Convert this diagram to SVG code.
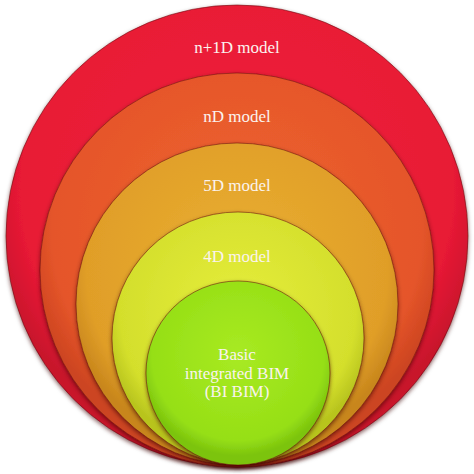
<svg xmlns="http://www.w3.org/2000/svg" width="474" height="474" viewBox="0 0 474 474">
<defs>
<filter id="sh" x="-10%" y="-10%" width="120%" height="125%">
<feDropShadow dx="0" dy="2" stdDeviation="2" flood-color="#3a0000" flood-opacity="0.6"/>
</filter>
<radialGradient id="g1" cx="50%" cy="40%" r="55%">
<stop offset="0" stop-color="#f0213c"/>
<stop offset="0.85" stop-color="#e81a35"/>
<stop offset="1" stop-color="#c8122c"/>
</radialGradient>
<radialGradient id="g2" cx="50%" cy="40%" r="55%">
<stop offset="0" stop-color="#ee6430"/>
<stop offset="0.85" stop-color="#e5552a"/>
<stop offset="1" stop-color="#cc4420"/>
</radialGradient>
<radialGradient id="g3" cx="50%" cy="40%" r="55%">
<stop offset="0" stop-color="#eab032"/>
<stop offset="0.85" stop-color="#e09e28"/>
<stop offset="1" stop-color="#c8861c"/>
</radialGradient>
<radialGradient id="g4" cx="50%" cy="40%" r="55%">
<stop offset="0" stop-color="#e6ee3c"/>
<stop offset="0.85" stop-color="#d4df2c"/>
<stop offset="1" stop-color="#b8c41e"/>
</radialGradient>
<radialGradient id="g5" cx="50%" cy="40%" r="55%">
<stop offset="0" stop-color="#a8ea22"/>
<stop offset="0.85" stop-color="#96df16"/>
<stop offset="1" stop-color="#7cc40e"/>
</radialGradient>
</defs>
<style>
.c{stroke:#6a1010;stroke-opacity:0.55;stroke-width:1;filter:url(#sh)}
.t{font-family:"Liberation Serif","Times New Roman",serif;font-size:17px;fill:#fbf3ee;text-anchor:middle}
</style>
<rect width="474" height="474" fill="#ffffff"/>
<g id="n1"><circle class="c" cx="237" cy="236" r="231" fill="url(#g1)"/><text class="t" x="237" y="53">n+1D model</text></g>
<g id="n2"><circle class="c" cx="237" cy="270" r="197" fill="url(#g2)"/><text class="t" x="237" y="122">nD model</text></g>
<g id="n3"><circle class="c" cx="237" cy="304" r="161" fill="url(#g3)"/><text class="t" x="237" y="191">5D model</text></g>
<g id="n4"><circle class="c" cx="238" cy="338" r="126" fill="url(#g4)"/><text class="t" x="237" y="262">4D model</text></g>
<g id="n5"><circle class="c" cx="238" cy="373" r="92" fill="url(#g5)"/><text class="t" x="237" y="360">Basic</text><text class="t" x="237" y="379">integrated BIM</text><text class="t" x="237" y="397">(BI BIM)</text></g>
<g id="connectors"/>
</svg>
